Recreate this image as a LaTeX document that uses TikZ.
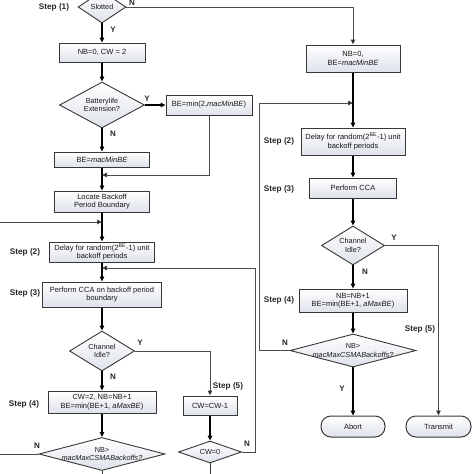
\documentclass[tikz,border=0pt]{standalone}
\usepackage{fontspec}
\setmainfont{Liberation Sans}
\usetikzlibrary{shapes.geometric,arrows.meta}
\definecolor{boxbot}{RGB}{222,226,234}
\definecolor{edgec}{RGB}{55,55,55}
\begin{document}
\begin{tikzpicture}[x=1pt,y=-1pt,
 every node/.style={inner sep=1pt},
 box/.style={rectangle, draw=edgec, line width=1pt, top color=white, bottom color=boxbot, align=center, font=\fontsize{7.5}{8.5}\selectfont, text=black!90},
 dia/.style={diamond, draw=edgec, line width=0.9pt, top color=white, bottom color=boxbot, inner sep=0pt},
 term/.style={box, rounded corners=10pt},
 arr/.style={draw=black, line width=1.1pt, -{Triangle[length=5pt,width=4.5pt]}},
 thinarr/.style={draw=black!70, line width=0.9pt, -{Triangle[length=5pt,width=4.5pt,fill=black]}},
 ln/.style={draw=black!80, line width=1pt},
 steplbl/.style={font=\bfseries\fontsize{8.2}{9}\selectfont, text=black!85},
 yn/.style={font=\bfseries\fontsize{8}{9}\selectfont, text=black!85},
 dtext/.style={align=center, font=\fontsize{7.3}{8.5}\selectfont, text=black!90, inner sep=0pt},
]
\useasboundingbox (0,0) rectangle (474,474);

% ---------- left column ----------
\node[dia, minimum width=48pt, minimum height=32pt, label={[dtext]center:{Slotted}}] (slot) at (102,7) {};
\node[box, minimum width=86pt, minimum height=19pt] (b1) at (102,52.5) {NB=0, CW = 2};
\node[dia, minimum width=85pt, minimum height=46pt, label={[dtext]center:{Batterylife\\Extension?}}] (batt) at (102,105) {};
\node[box, minimum width=86pt, minimum height=20pt] (bemin) at (209,105) {BE=min(2,\textit{macMinBE})};
\node[box, minimum width=95pt, minimum height=15pt] (bemac) at (102,159.5) {BE=\textit{macMinBE}};
\node[box, minimum width=95pt, minimum height=21pt] (loc) at (102,201.5) {Locate Backoff\\Period Boundary};
\node[box, minimum width=105pt, minimum height=20pt] (dly) at (102,252) {Delay for random(2\textsuperscript{BE}-1) unit\\backoff periods};
\node[box, minimum width=119pt, minimum height=25pt] (cca) at (102,294.5) {Perform CCA on backoff period\\boundary};
\node[dia, minimum width=65pt, minimum height=40pt, label={[dtext]center:{Channel\\Idle?}}] (chl) at (102,351) {};
\node[box, minimum width=108pt, minimum height=22pt] (cw2) at (102,402) {CW=2, NB=NB+1\\BE=min(BE+1, \textit{aMaxBE})};
\node[dia, minimum width=126pt, minimum height=33pt, label={[dtext]center:{NB>\\\textit{macMaxCSMABackoffs?}}}] (nbl) at (102,454) {};
\node[box, minimum width=54pt, minimum height=19pt] (cwm) at (210,405.5) {CW=CW-1};
\node[dia, minimum width=63pt, minimum height=22pt, label={[dtext]center:{CW=0}}] (cw0) at (210,452) {};

% ---------- right column ----------
\node[box, minimum width=94pt, minimum height=27pt] (r1) at (353,58.5) {NB=0,\\BE=\textit{macMinBE}};
\node[box, minimum width=104pt, minimum height=27pt] (rdly) at (353,141.5) {Delay for random(2\textsuperscript{BE}-1) unit\\backoff periods};
\node[box, minimum width=87pt, minimum height=20pt] (rcca) at (353,188) {Perform CCA};
\node[dia, minimum width=63pt, minimum height=39pt, label={[dtext]center:{Channel\\Idle?}}] (rch) at (353,245.5) {};
\node[box, minimum width=108pt, minimum height=23pt] (rnb1) at (353,300.5) {NB=NB+1\\BE=min(BE+1, \textit{aMaxBE})};
\node[dia, minimum width=126pt, minimum height=33pt, label={[dtext]center:{NB>\\\textit{macMaxCSMABackoffs?}}}] (rnbd) at (353,350.5) {};
\node[term, minimum width=64pt, minimum height=21pt] (abort) at (353,426.5) {Abort};
\node[term, minimum width=65pt, minimum height=21pt] (tx) at (438.5,426.5) {Transmit};

% ---------- junction coordinates ----------
\coordinate (j1) at (102,175);
\coordinate (jl) at (102,222);
\coordinate (jr) at (102,268);
\coordinate (rl) at (255,268);
\coordinate (j2) at (353,103);
\coordinate (rl2) at (259,103);
\coordinate (offl) at (-4,454);
\coordinate (e1) at (210,480);
\coordinate (e2) at (102,480);

% ---------- connectors ----------
\draw[thinarr] (slot.east) -| (r1.north);
\draw[arr] (slot.south) -- (b1.north);
\draw[arr] (b1.south) -- (batt.north);
\draw[arr] (batt.east) -- (bemin.west);
\draw[arr] (batt.south) -- (bemac.north);
\draw[arr] (bemac.south) -- (loc.north);
\draw[thinarr] (bemin.south) |- (j1);
\draw[arr] (loc.south) -- (dly.north);
\draw[thinarr] (nbl.west) -- (offl) |- (jl);
\draw[arr] (dly.south) -- (cca.north);
\draw[thinarr] (cw0.east) -| (rl) -- (jr);
\draw[arr] (cca.south) -- (chl.north);
\draw[thinarr] (chl.east) -| (cwm.north);
\draw[arr] (chl.south) -- (cw2.north);
\draw[arr] (cw2.south) -- (nbl.north);
\draw[arr] (cwm.south) -- (cw0.north);
\draw[ln] (cw0.south) -- (e1);
\draw[ln] (nbl.south) -- (e2);

\draw[arr] (r1.south) -- (rdly.north);
\draw[thinarr] (rnbd.west) -| (rl2) -- (j2);
\draw[arr] (rdly.south) -- (rcca.north);
\draw[arr] (rcca.south) -- (rch.north);
\draw[arr] (rch.south) -- (rnb1.north);
\draw[arr] (rnb1.south) -- (rnbd.north);
\draw[arr] (rnbd.south) -- (abort.north);
\draw[thinarr] (rch.east) -| (tx.north);

% ---------- labels ----------
\node[steplbl] (s1) at (54,7) {Step (1)};
\node[yn] (n1) at (132,3) {N};
\node[yn] (y1) at (113,30) {Y};
\node[yn] (y2) at (147,99) {Y};
\node[yn] (n2) at (113,134) {N};
\node[steplbl] (s2) at (25,252) {Step (2)};
\node[steplbl] (s3) at (25,293) {Step (3)};
\node[yn] (y3) at (140,343) {Y};
\node[yn] (n3) at (113,377) {N};
\node[steplbl] (s4) at (24,404) {Step (4)};
\node[steplbl] (s5) at (228,386) {Step (5)};
\node[yn] (n4) at (37,446) {N};
\node[yn] (n5) at (247,444) {N};

\node[steplbl] (rs2) at (279,141) {Step (2)};
\node[steplbl] (rs3) at (279,189) {Step (3)};
\node[yn] (ry1) at (394,238) {Y};
\node[yn] (rn1) at (365,272) {N};
\node[steplbl] (rs4) at (279,300) {Step (4)};
\node[steplbl] (rs5) at (420,329) {Step (5)};
\node[yn] (rn2) at (285,343) {N};
\node[yn] (ry2) at (342,389) {Y};
\end{tikzpicture}
\end{document}
